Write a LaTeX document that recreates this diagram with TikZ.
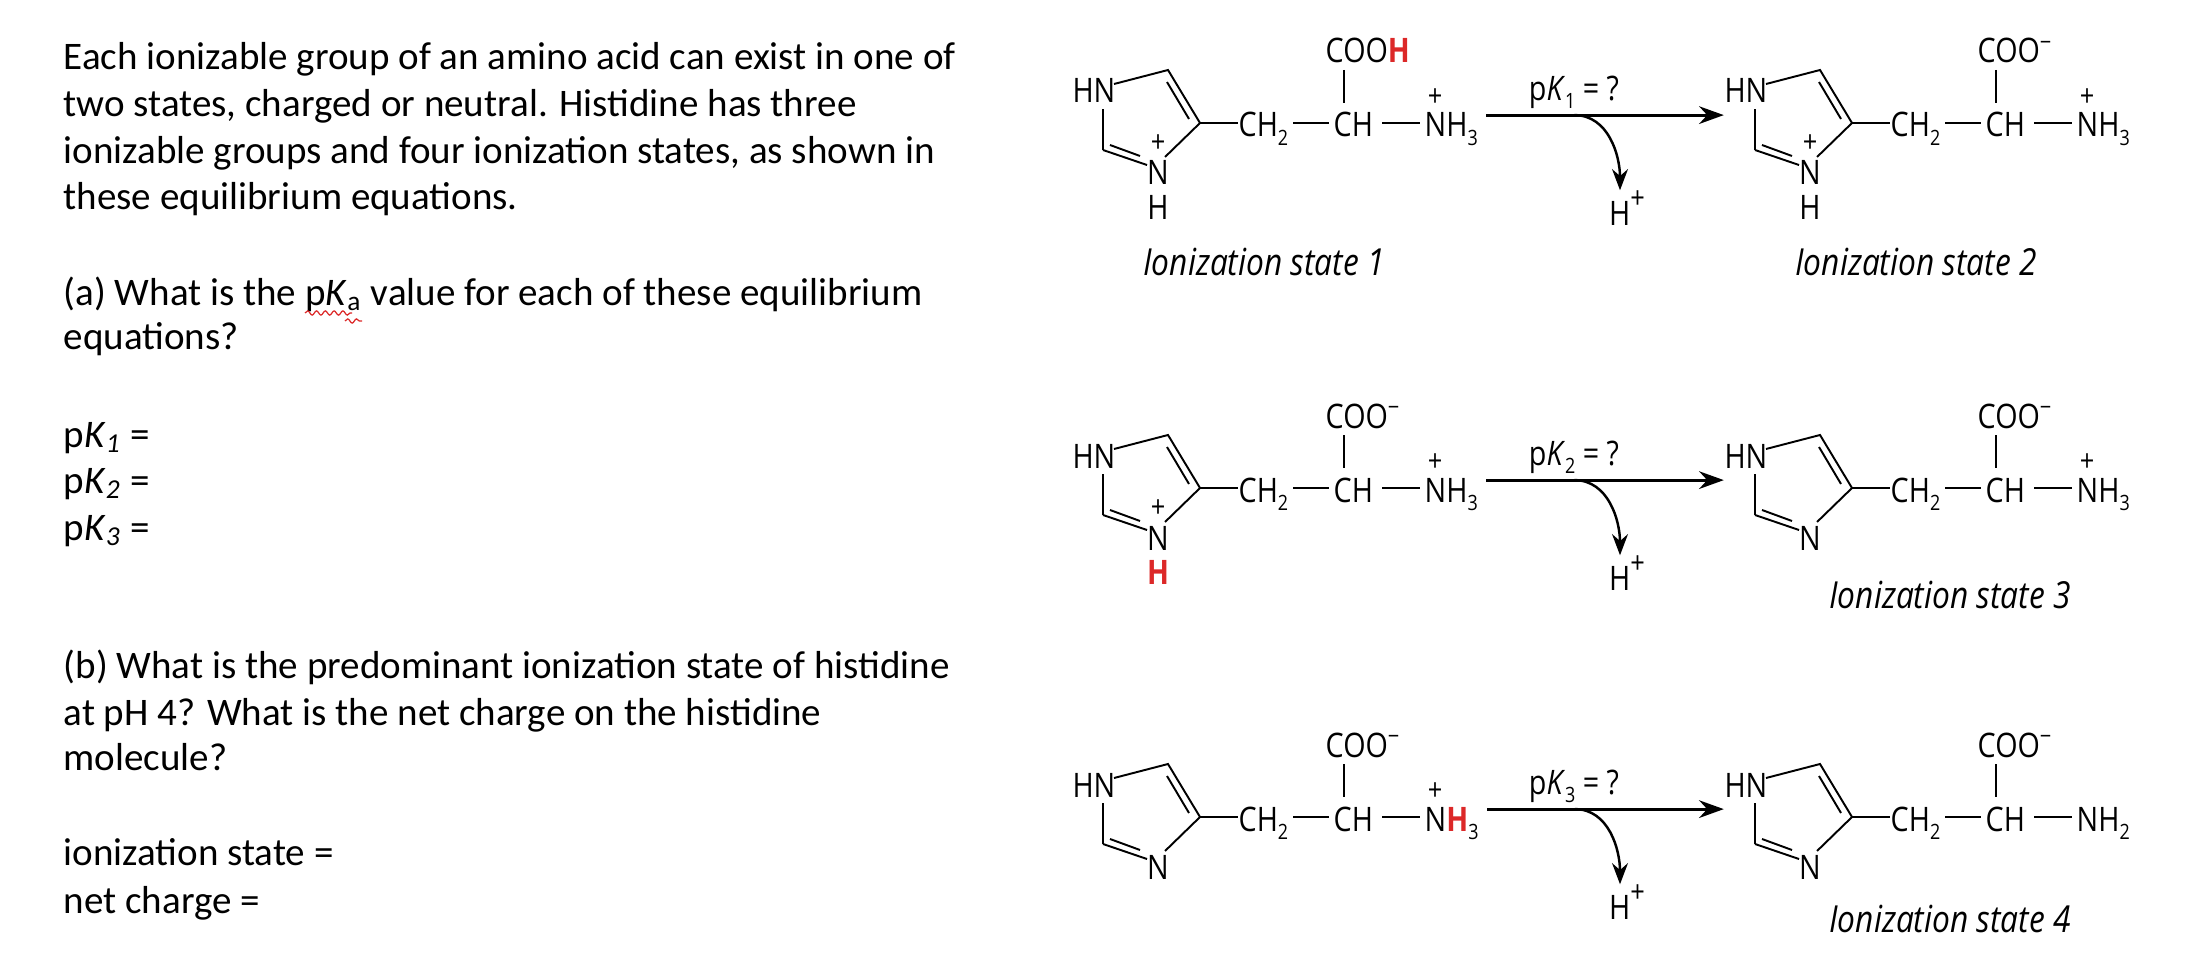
\documentclass[tikz,border=0pt]{standalone}
\usepackage{fontspec}
\setmainfont{Carlito}
\newfontfamily\molfont[FakeStretch=0.85]{Open Sans}
\usetikzlibrary{arrows.meta,decorations.pathmorphing}
\definecolor{hred}{RGB}{220,40,40}
\newcommand\msub[1]{\raisebox{-0.45ex}{\fontsize{6pt}{6pt}\selectfont #1}}
\newcommand\hplus{H\raisebox{0.9ex}{\fontsize{8.5pt}{8pt}\selectfont +}}
\tikzset{
  qtext/.style={anchor=base west,inner sep=0,font=\fontsize{11.1pt}{13.4pt}\selectfont},
  mol/.style={inner sep=0,font=\molfont\fontsize{9.6pt}{10pt}\selectfont},
  chg/.style={inner sep=0,font=\molfont\fontsize{8.5pt}{8pt}\selectfont},
  bond/.style={line width=0.55pt},
  rxn/.style={line width=0.9pt,-{Stealth[length=7pt,width=5pt]}},
  curv/.style={line width=0.7pt,-{Stealth[length=6pt,width=4.5pt]}},
  lab/.style={inner sep=0,font=\molfont\itshape\fontsize{10.6pt}{11pt}\selectfont},
}
% #1 prefix, #2 shift, #3 ring charged (1/0), #4 ring H colour, #5 H font, #6 amine text, #7 amine charged (1/0)
\newcommand\histmol[7]{%
\begin{scope}[shift={#2}]
  \node[mol,anchor=base east] (#1hn) at (-84,-20) {HN};
  \coordinate (#1c5) at (-32,-53);
  \coordinate (#1c4) at (0,0);
  \coordinate (#1c2) at (-97,27);
  \node[mol,anchor=base] (#1n) at (-42,62) {N};
  \draw[bond] (-86,-39) -- (#1c5) -- (#1c4) -- (-35,34);
  \draw[bond] (-33,-41) -- (-11,-4);
  \draw[bond] (#1c2) -- (-53,42);
  \draw[bond] (-90,22) -- (-60,33);
  \draw[bond] (#1c2) -- (-97,-14);
  \ifnum#3=1
    \node[mol,anchor=base,text=#4] (#1nh) at (-42,96) {#5H};
    \node[chg] (#1np) at (-42,21) {+};
  \fi
  \node[mol,anchor=base west] (#1ch2) at (38,14) {CH\msub{2}};
  \node[mol,anchor=base west] (#1ch) at (133,14) {CH};
  \node[mol,anchor=base west] (#1nh3) at (224,14) {#6};
  \draw[bond] (#1c4) -- (#1ch2.west|-0,0);
  \draw[bond] (93,0) -- (129,0);
  \draw[bond] (182,0) -- (220,0);
  \draw[bond] (144,-53) -- (144,-20);
  \ifnum#7=1 \node[chg] (#1ap) at (235,-25) {+}; \fi
\end{scope}}
\begin{document}
\begin{tikzpicture}[x=0.01cm,y=-0.01cm]
\useasboundingbox (0,0) rectangle (2212,979);
% question text
\node[qtext] (t1) at (63,70) {Each ionizable group of an amino acid can exist in one of};
\node[qtext] (t2) at (63,117) {two states, charged or neutral. Histidine has three};
\node[qtext] (t3) at (63,164) {ionizable groups and four ionization states, as shown in};
\node[qtext] (t4) at (63,210) {these equilibrium equations.};
\node[qtext] (a1) at (63,305) {(a) What is the p\textit{K}\textsubscript{a} value for each of these equilibrium};
\node[qtext] (a2) at (63,350) {equations?};
\draw[hred,line width=0.35pt,decorate,decoration={snake,amplitude=0.6pt,segment length=2.5pt}] (305,313) -- (352,313);
\draw[hred,line width=0.35pt,decorate,decoration={snake,amplitude=0.6pt,segment length=2.5pt}] (345,321) -- (362,321);
\node[qtext] (k1) at (63,447) {p\textit{K}\textsubscript{\textit{1}} =};
\node[qtext] (k2) at (63,493) {p\textit{K}\textsubscript{\textit{2}} =};
\node[qtext] (k3) at (63,540) {p\textit{K}\textsubscript{\textit{3}} =};
\node[qtext] (b1) at (63,678) {(b) What is the predominant ionization state of histidine};
\node[qtext] (b2) at (63,725) {at pH 4? What is the net charge on the histidine};
\node[qtext] (b3) at (63,770) {molecule?};
\node[qtext] (b4) at (63,865) {ionization state =};
\node[qtext] (b5) at (63,913) {net charge =};
% row 1
\histmol{m1}{(1200,123)}{1}{black}{}{NH\msub{3}}{1}
\node[mol,anchor=base west] (m1coo) at (1325,-60+123) {COO\textbf{\textcolor{hred}{H}}};
\histmol{m2}{(1852,123)}{1}{black}{}{NH\msub{3}}{1}
\node[mol,anchor=base west] (m2coo) at (1977,-60+123) {COO\textsuperscript{\textminus}};
\draw[rxn] (m1nh3.east) ++(8,-14) coordinate (r1s) -- (m2hn.west|-r1s) node[pos=0.37,coordinate] (r1t) {};
\node[mol] (r1k) at (1574,92) {p\textit{K}\msub{1} = ?};
\node[mol] (r1h) at (1627,208) {\hplus};
\draw[curv] (r1t) to[out=0,in=90] (r1h.north west-|1620,0);
\node[lab] (l1) at (1264,262) {Ionization state 1};
\node[lab] (l2) at (1916,262) {Ionization state 2};
% row 2
\histmol{m3}{(1200,488)}{1}{hred}{\bfseries}{NH\msub{3}}{1}
\node[mol,anchor=base west] (m3coo) at (1325,-60+488) {COO\textsuperscript{\textminus}};
\histmol{m4}{(1852,488)}{0}{black}{}{NH\msub{3}}{1}
\node[mol,anchor=base west] (m4coo) at (1977,-60+488) {COO\textsuperscript{\textminus}};
\draw[rxn] (m3nh3.east) ++(8,-14) coordinate (r2s) -- (m4hn.west|-r2s) node[pos=0.37,coordinate] (r2t) {};
\node[mol] (r2k) at (1574,457) {p\textit{K}\msub{2} = ?};
\node[mol] (r2h) at (1627,573) {\hplus};
\draw[curv] (r2t) to[out=0,in=90] (r2h.north west-|1620,0);
\node[lab] (l3) at (1950,595) {Ionization state 3};
% row 3
\histmol{m5}{(1200,817)}{0}{black}{}{N\textbf{\textcolor{hred}{H}}\msub{3}}{1}
\node[mol,anchor=base west] (m5coo) at (1325,-60+817) {COO\textsuperscript{\textminus}};
\histmol{m6}{(1852,817)}{0}{black}{}{NH\msub{2}}{0}
\node[mol,anchor=base west] (m6coo) at (1977,-60+817) {COO\textsuperscript{\textminus}};
\draw[rxn] (m5nh3.east) ++(8,-14) coordinate (r3s) -- (m6hn.west|-r3s) node[pos=0.37,coordinate] (r3t) {};
\node[mol] (r3k) at (1574,786) {p\textit{K}\msub{3} = ?};
\node[mol] (r3h) at (1627,902) {\hplus};
\draw[curv] (r3t) to[out=0,in=90] (r3h.north west-|1620,0);
\node[lab] (l4) at (1950,919) {Ionization state 4};
\end{tikzpicture}
\end{document}
